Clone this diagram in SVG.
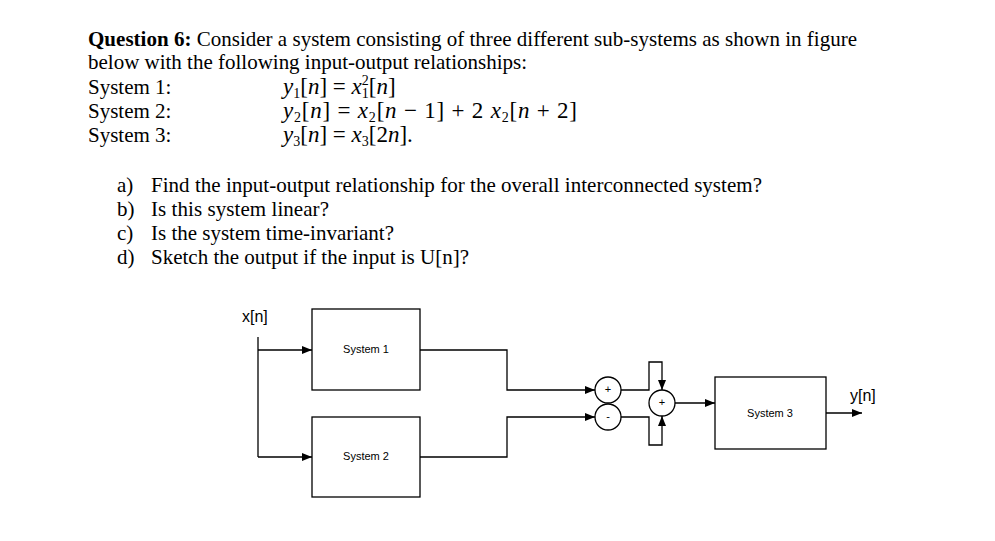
<svg xmlns="http://www.w3.org/2000/svg" width="995" height="541" viewBox="0 0 995 541">
<style>
.t{font-family:"Liberation Serif",serif;font-size:21px;fill:#000}
.m{font-family:"Liberation Serif",serif;font-size:23px;font-style:italic;fill:#000}
.u{font-style:normal}
.s{font-family:"Liberation Sans",Arial,sans-serif;font-size:11px;fill:#000}
.l{font-family:"Liberation Sans",Arial,sans-serif;font-size:16px;fill:#000}
.b{fill:#fff;stroke:#000;stroke-width:1.3}
.c{fill:none;stroke:#000;stroke-width:1.3}
</style>
<defs><marker id="a" markerWidth="10" markerHeight="8" refX="10" refY="4" orient="auto" markerUnits="userSpaceOnUse"><path d="M0,0L10,4L0,8z"/></marker></defs>
<rect width="995" height="541" fill="#fff"/>
<text class="t" x="88" y="46" textLength="769"><tspan font-weight="bold">Question 6:</tspan> Consider a system consisting of three different sub-systems as shown in figure</text>
<text class="t" x="88" y="69" textLength="439">below with the following input-output relationships:</text>
<text class="t" x="88" y="94">System 1:</text>
<text class="t" x="88" y="118">System 2:</text>
<text class="t" x="88" y="142">System 3:</text>
<text class="m" x="283" y="94">y<tspan class="u" font-size="14" dy="4">1</tspan><tspan class="u" dy="-4">[</tspan>n<tspan class="u">]  =   </tspan>x<tspan class="u" font-size="14" dy="4">1</tspan><tspan class="u" font-size="14" dx="-7" dy="-13">2</tspan><tspan class="u" dy="9">[</tspan>n<tspan class="u">]</tspan></text>
<text class="m" x="283" y="118" textLength="294">y<tspan class="u" font-size="14" dy="4">2</tspan><tspan class="u" dy="-4">[</tspan>n<tspan class="u">] =  </tspan>x<tspan class="u" font-size="14" dy="4">2</tspan><tspan class="u" dy="-4">[</tspan>n<tspan class="u"> − 1] +  2 </tspan>x<tspan class="u" font-size="14" dy="4">2</tspan><tspan class="u" dy="-4">[</tspan>n<tspan class="u"> + 2]</tspan></text>
<text class="m" x="283" y="142">y<tspan class="u" font-size="14" dy="4">3</tspan><tspan class="u" dy="-4">[</tspan>n<tspan class="u">]  =   </tspan>x<tspan class="u" font-size="14" dy="4">3</tspan><tspan class="u" dy="-4">[2</tspan>n<tspan class="u">].</tspan></text>
<text class="t" x="117" y="192">a)</text><text class="t" x="151" y="192" textLength="611">Find the input-output relationship for the overall interconnected system?</text>
<text class="t" x="117" y="216">b)</text><text class="t" x="151" y="216" textLength="178">Is this system linear?</text>
<text class="t" x="117" y="240">c)</text><text class="t" x="151" y="240" textLength="243">Is the system time-invariant?</text>
<text class="t" x="117" y="264">d)</text><text class="t" x="151" y="264" textLength="318">Sketch the output if the input is U[n]?</text>
<g id="connectors">
<path class="c" d="M258,337V457"/>
<path class="c" d="M258,350H312" marker-end="url(#a)"/>
<path class="c" d="M258,457H312" marker-end="url(#a)"/>
<path class="c" d="M420,350H507V390H595" marker-end="url(#a)"/>
<path class="c" d="M420,457H507V417H595" marker-end="url(#a)"/>
<path class="c" d="M621,390H649V362H662V390" marker-end="url(#a)"/>
<path class="c" d="M621,417H649V445H662V416" marker-end="url(#a)"/>
<path class="c" d="M675,403H715" marker-end="url(#a)"/>
<path class="c" d="M826,413H862" marker-end="url(#a)"/>
</g>
<g id="xn"><text class="l" x="242" y="322">x[n]</text></g>
<g id="yn"><text class="l" x="850" y="401">y[n]</text></g>
<g id="sys1"><rect class="b" x="312" y="309" width="108" height="81"/><text class="s" x="366" y="353" text-anchor="middle">System 1</text></g>
<g id="sys2"><rect class="b" x="312" y="417" width="108" height="80"/><text class="s" x="366" y="460" text-anchor="middle">System 2</text></g>
<g id="sys3"><rect class="b" x="715" y="377" width="111" height="72"/><text class="s" x="770" y="417" text-anchor="middle">System 3</text></g>
<g id="sum1"><circle class="b" cx="608" cy="390" r="13"/><text class="s" x="608" y="393" font-size="9" text-anchor="middle">+</text></g>
<g id="sum2"><circle class="b" cx="608" cy="417" r="13"/><text class="s" x="608" y="420" font-size="9" text-anchor="middle">-</text></g>
<g id="sum3"><circle class="b" cx="662" cy="403" r="13"/><text class="s" x="662" y="406" font-size="9" text-anchor="middle">+</text></g>
</svg>
